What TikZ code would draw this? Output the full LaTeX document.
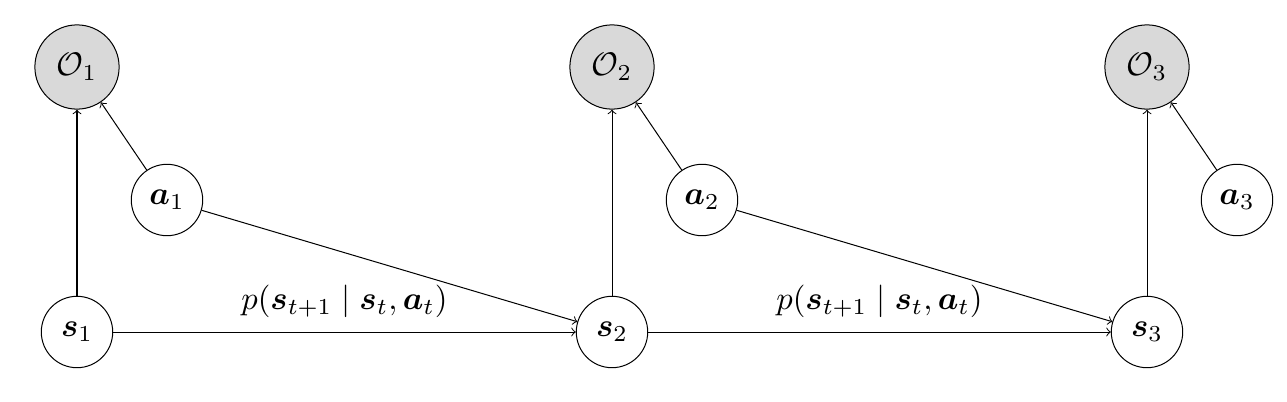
\documentclass[tikz,border=0pt]{standalone}
\usepackage{amsmath,bm,graphicx}
\newcommand{\bigtxt}[1]{\scalebox{1.3}{#1}}
\begin{document}
\begin{tikzpicture}[x=0.014cm,y=-0.014cm,
  obs/.style={circle,draw,fill=gray!30,minimum size=1.18cm,inner sep=0pt},
  var/.style={circle,draw,fill=white,minimum size=1.0cm,inner sep=0pt},
  arr/.style={->,>=to}]
\useasboundingbox (0,0) rectangle (1287,401);
\foreach \i/\x in {1/77,2/612,3/1147}{
  \node[obs] (O\i) at (\x,67) {\bigtxt{$\mathcal{O}_\i$}};
  \node[var] (a\i) at (\x+90,200) {\bigtxt{$\bm{a}_\i$}};
  \node[var] (s\i) at (\x,332) {\bigtxt{$\bm{s}_\i$}};
  \draw[arr] (s\i) -- (O\i);
  \draw[arr] (a\i) -- (O\i);
}
\draw[arr] (s1) -- node[above=2pt]{\bigtxt{$p(\bm{s}_{t+1}\mid \bm{s}_t,\bm{a}_t)$}} (s2);
\draw[arr] (s2) -- node[above=2pt]{\bigtxt{$p(\bm{s}_{t+1}\mid \bm{s}_t,\bm{a}_t)$}} (s3);
\draw[arr] (a1) -- (s2);
\draw[arr] (a2) -- (s3);
\end{tikzpicture}
\end{document}
